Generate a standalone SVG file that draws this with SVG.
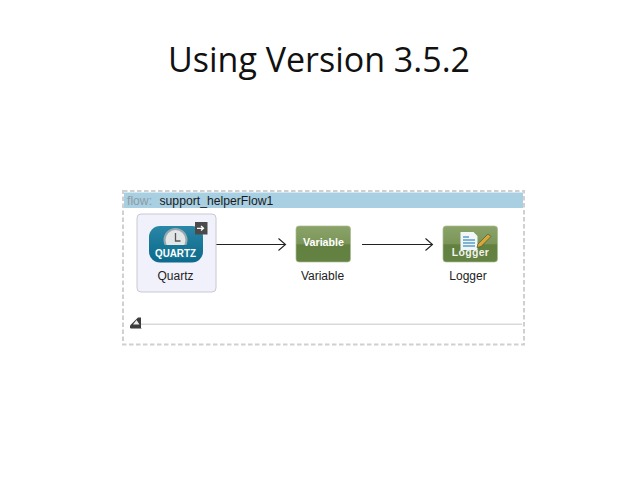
<svg xmlns="http://www.w3.org/2000/svg" width="638" height="478" viewBox="0 0 638 478">
<defs>
<style>
text{font-family:"Liberation Sans",Arial,sans-serif}
.title{font-family:"Open Sans","Noto Sans",sans-serif;font-size:34px;fill:#111}
.lbl{font-size:12px;fill:#222;text-anchor:middle}
.ico{font-weight:bold;fill:#fff;text-anchor:middle}
.conn{fill:none;stroke:#222;stroke-width:1.1}
.dash{fill:none;stroke:#d0d0d0;stroke-width:2;stroke-dasharray:4.500 2.500}
</style>
<linearGradient id="g" x1="0" y1="0" x2="0" y2="1"><stop offset="0" stop-color="#8ba36a"/><stop offset=".5" stop-color="#7b9558"/><stop offset=".52" stop-color="#62803f"/><stop offset="1" stop-color="#648243"/></linearGradient>
<linearGradient id="b" x1="0" y1="0" x2="0" y2="1"><stop offset="0" stop-color="#2a87a8"/><stop offset=".55" stop-color="#177596"/><stop offset="1" stop-color="#0d6a8c"/></linearGradient>
</defs>
<rect width="638" height="478" fill="#fff"/>
<text class="title" x="319" y="72" text-anchor="middle">Using Version 3.5.2</text>
<g id="flow">
<rect x="123" y="191" width="401" height="153.500" class="dash"/>
<rect x="124" y="192.500" width="399" height="15.500" fill="#a8cfe2"/>
<text x="127" y="205" font-size="12.200"><tspan fill="#8d9ba3">flow:</tspan><tspan x="159.500" fill="#1a1a1a">support_helperFlow1</tspan></text>
<rect x="141" y="323.500" width="381" height="1.500" fill="#d9d9d9"/>
<path d="M138 317.500h3v10.500h-11v-2.500z" fill="#3c3c3c"/><path d="M130.500 328h11v1h-11z" fill="#999"/><path d="M133 324.500l3.500-4.500 3 4.500z" fill="#eee"/>
</g>
<g id="connectors">
<path class="conn" d="M216 244.500H285M278.500 238.500l7 6-7 6"/>
<path class="conn" d="M362 244.500H432M425.500 238.500l7 6-7 6"/>
</g>
<g id="quartz">
<rect x="137" y="214" width="79" height="78" rx="4" fill="#f1f1fb" stroke="#c9c9d2" stroke-width="1"/>
<rect x="149" y="226" width="54" height="36.500" rx="11" fill="url(#b)"/>
<circle cx="175.500" cy="240" r="11" fill="#e3e6e6" stroke="#98a8ae" stroke-width="2"/>
<path d="M175.500 233v8h5" fill="none" stroke="#555" stroke-width="1.300"/>
<path d="M158 245h35v13h-35z" fill="#177596"/>
<rect x="195" y="222" width="12.500" height="12.500" fill="#4a4a4a"/>
<path d="M197 228.300h6M201 226l2.500 2.300-2.500 2.300" fill="none" stroke="#fff" stroke-width="1.300"/>
<text class="ico" x="175.500" y="257" font-size="10.500" textLength="41" lengthAdjust="spacingAndGlyphs">QUARTZ</text>
<text class="lbl" x="175.500" y="280">Quartz</text>
</g>
<g id="variable">
<rect x="296" y="226" width="54.500" height="36" rx="3" fill="url(#g)" stroke="#a9bb90" stroke-width=".7"/>
<text class="ico" x="323.500" y="246" font-size="10.500" textLength="41" lengthAdjust="spacingAndGlyphs">Variable</text>
<text class="lbl" x="322.500" y="280">Variable</text>
</g>
<g id="logger">
<rect x="443" y="226" width="54.500" height="36" rx="3" fill="url(#g)" stroke="#a9bb90" stroke-width=".7"/>
<path d="M460.500 232h13l4 4v14h-17z" fill="#f2f6f8"/>
<path d="M463 237h6M463 240h12M463 243h12M463 246h12" stroke="#5a9fc8" stroke-width="1.300" fill="none"/>
<path d="M478 244l10-10 3 2.500-10 10-4 1z" fill="#d8a73a" stroke="#4f5a30" stroke-width=".7"/>
<text class="ico" x="470.500" y="256" font-size="10.500" letter-spacing=".3" fill-opacity=".92">Logger</text>
<text class="lbl" x="468" y="280">Logger</text>
</g>
</svg>
